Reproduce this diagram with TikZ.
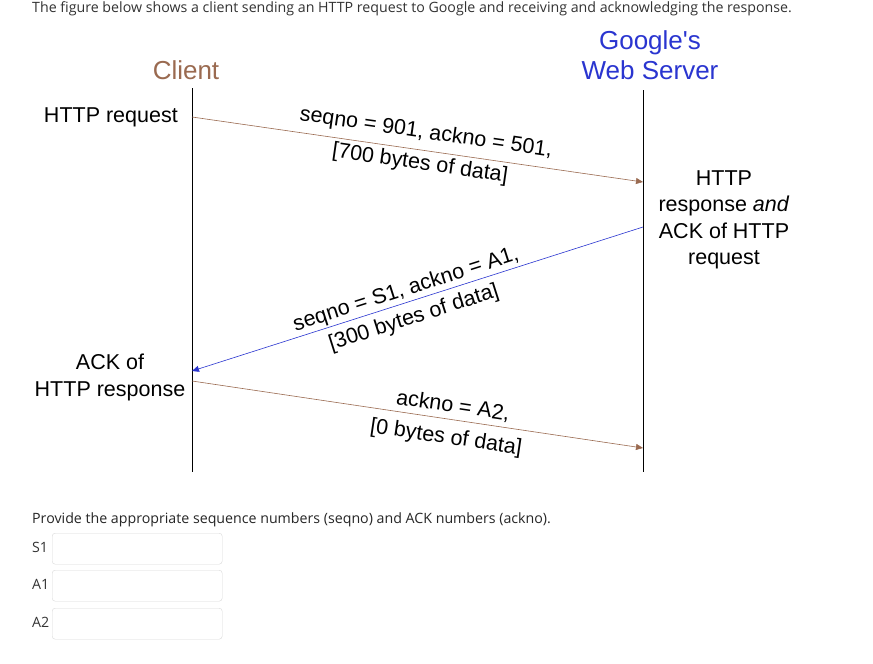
\documentclass[tikz,border=0pt]{standalone}
\usepackage{fontspec}
\setmainfont{Liberation Sans}
\newfontfamily\osans{Open Sans}
\usetikzlibrary{arrows.meta}
\definecolor{cbrown}{HTML}{9A6A50}
\definecolor{cblue}{HTML}{2a35d0}
\definecolor{pagegray}{HTML}{333333}
\begin{document}
\begin{tikzpicture}[x=1pt,y=-1pt,
  lbl/.style={font=\fontsize{21.5}{25}\selectfont, inner sep=0pt},
  msg/.style={font=\fontsize{21.5}{25}\selectfont, inner sep=0pt},
  page/.style={font=\osans\fontsize{14.2}{17}\selectfont, text=pagegray, inner sep=0pt, anchor=west},
  life/.style={draw=black, line width=0.8pt},
  arr/.style={-{Triangle[length=7pt,width=6pt]}, line width=0.6pt},
  inbox/.style={draw=black!15, rounded corners=3pt, minimum width=170pt, minimum height=31pt, anchor=north west, inner sep=0pt}]
\useasboundingbox[fill=white] (0,0) rectangle (873,664);
\node[page] (top) at (32,9) {The figure below shows a client sending an HTTP request to Google and receiving and acknowledging the response.};
\node[lbl, text=cblue, align=center, font=\fontsize{26}{30}\selectfont] (server) at (650,55) {Google\XeTeXglyph\XeTeXcharglyph"27 s\\Web Server};
\node[lbl, text=cbrown, font=\fontsize{26}{30}\selectfont] (client) at (186,70) {Client};
\coordinate (c0) at (192,88); \coordinate (c1) at (192,472);
\coordinate (s0) at (643,90); \coordinate (s1) at (643,472);
\draw[life] (c0) -- (c1);
\draw[life] (s0) -- (s1);
\node[lbl, anchor=east] (req) at (178,117) {HTTP request};
\coordinate (a1s) at (192,117); \coordinate (a1e) at (643,182);
\draw[arr, cbrown] (a1s) -- (a1e);
\node[msg, rotate=-8.2] (m1a) at (426,133) {seqno = 901, ackno = 501,};
\node[msg, rotate=-8.2] (m1b) at (420,164) {[700 bytes of data]};
\node[lbl, align=center, font=\fontsize{21.5}{26.5}\selectfont] (resp) at (724,220) {HTTP\\response \textit{and}\\ACK of HTTP\\request};
\coordinate (a2s) at (643,227); \coordinate (a2e) at (192,371);
\draw[arr, cblue] (a2s) -- (a2e);
\node[msg, rotate=17.7] (m2a) at (406,290) {seqno = S1, ackno = A1,};
\node[msg, rotate=17.7] (m2b) at (414,318) {[300 bytes of data]};
\node[lbl, align=center, font=\fontsize{21.5}{27}\selectfont] (ackr) at (110,377) {ACK of\\HTTP response};
\coordinate (a3s) at (192,381); \coordinate (a3e) at (643,448);
\draw[arr, cbrown] (a3s) -- (a3e);
\node[msg, rotate=-8.4] (m3a) at (453,406) {ackno = A2,};
\node[msg, rotate=-8.4] (m3b) at (446,438) {[0 bytes of data]};
\node[page, text=black!85] (prov) at (32,520) {Provide the appropriate sequence numbers (seqno) and ACK numbers (ackno).};
\node[page] (ls1) at (32,547) {S1};
\node[page] (la1) at (32,584) {A1};
\node[page] (la2) at (32,622) {A2};
\node[inbox] (b1) at (52,533) {};
\node[inbox] (b2) at (52,570) {};
\node[inbox] (b3) at (52,608) {};
\end{tikzpicture}
\end{document}
